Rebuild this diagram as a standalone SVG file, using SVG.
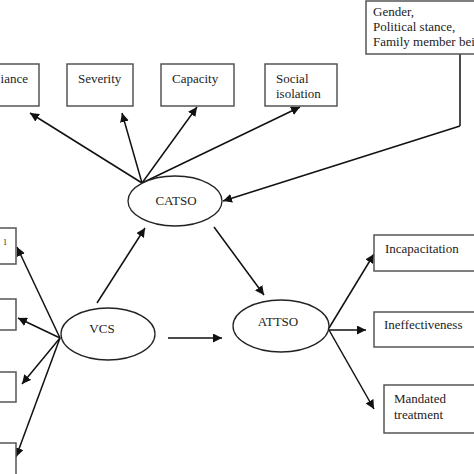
<svg xmlns="http://www.w3.org/2000/svg" width="474" height="474" viewBox="0 0 474 474">
<defs>
<marker id="ah" viewBox="0 0 10 10" refX="10" refY="5" markerWidth="9" markerHeight="9" markerUnits="userSpaceOnUse" orient="auto">
<path d="M0,0 L10,5 L0,10 z" fill="#111"/>
</marker>
</defs>
<style>
.box{fill:#fff;stroke:#555;stroke-width:1.5}
.ell{fill:#fff;stroke:#222;stroke-width:1.3}
text{font-family:'Liberation Serif','DejaVu Serif',serif;font-size:13px;fill:#222}
.c{fill:none;stroke:#111;stroke-width:1.5}
.a{fill:none;stroke:#111;stroke-width:1.5;marker-end:url(#ah)}
</style>
<rect width="474" height="474" fill="#fff"/>
<g id="connectors">
<path class="a" d="M142,183 L30,113"/>
<path class="a" d="M142,183 L122,113"/>
<path class="a" d="M142,183 L197,107"/>
<path class="a" d="M142,183 L300,107"/>
<path class="c" d="M460,54 L460,126"/>
<path class="a" d="M460,126 L223,201"/>
<path class="a" d="M97,303 L145,228"/>
<path class="a" d="M214,227 L264,295"/>
<path class="a" d="M168,338 L222,338"/>
<path class="a" d="M60,338 L17,247"/>
<path class="a" d="M60,338 L18,318"/>
<path class="a" d="M60,338 L22,384"/>
<path class="a" d="M60,338 L16,457"/>
<path class="a" d="M329,328 L374,254"/>
<path class="a" d="M329,330 L366,330"/>
<path class="a" d="M329,330 L374,409"/>
</g>
<g id="compliance"><rect class="box" x="-5" y="64" width="44" height="42"/><text font-family="Liberation Serif, serif" x="28" y="83" text-anchor="end">iance</text></g>
<g id="severity"><rect class="box" x="67" y="64" width="66" height="42"/><text font-family="Liberation Serif, serif" x="78" y="83">Severity</text></g>
<g id="capacity"><rect class="box" x="161" y="64" width="73" height="42"/><text font-family="Liberation Serif, serif" x="172" y="83">Capacity</text></g>
<g id="social"><rect class="box" x="265" y="64" width="72" height="42"/><text x="276" y="83">Social</text><text x="276" y="98">isolation</text></g>
<g id="gender"><rect class="box" x="366" y="1" width="115" height="53"/><text x="373" y="16">Gender,</text><text x="373" y="31">Political stance,</text><text x="373" y="46">Family member bei</text></g>
<g id="catso"><ellipse class="ell" cx="175" cy="201" rx="47" ry="25"/><text x="176" y="205" text-anchor="middle">CATSO</text></g>
<g id="vcs"><ellipse class="ell" cx="108" cy="334" rx="47" ry="26"/><text x="102" y="333" text-anchor="middle">VCS</text></g>
<g id="attso"><ellipse class="ell" cx="281" cy="326" rx="48" ry="26"/><text x="278" y="326" text-anchor="middle">ATTSO</text></g>
<g id="left1"><rect class="box" x="-5" y="228" width="21" height="36"/><text x="3" y="245" style="font-size:8px">1</text></g>
<g id="left2"><rect class="box" x="-5" y="299" width="21" height="31"/></g>
<g id="left3"><rect class="box" x="-5" y="372" width="21" height="30"/></g>
<g id="left4"><rect class="box" x="-5" y="443" width="21" height="40"/></g>
<g id="incapacitation"><rect class="box" x="374" y="235" width="110" height="36"/><text x="385" y="253">Incapacitation</text></g>
<g id="ineffectiveness"><rect class="box" x="374" y="312" width="110" height="35"/><text x="384" y="329">Ineffectiveness</text></g>
<g id="mandated"><rect class="box" x="384" y="385" width="100" height="48"/><text x="394" y="403">Mandated</text><text x="394" y="419">treatment</text></g>
</svg>
